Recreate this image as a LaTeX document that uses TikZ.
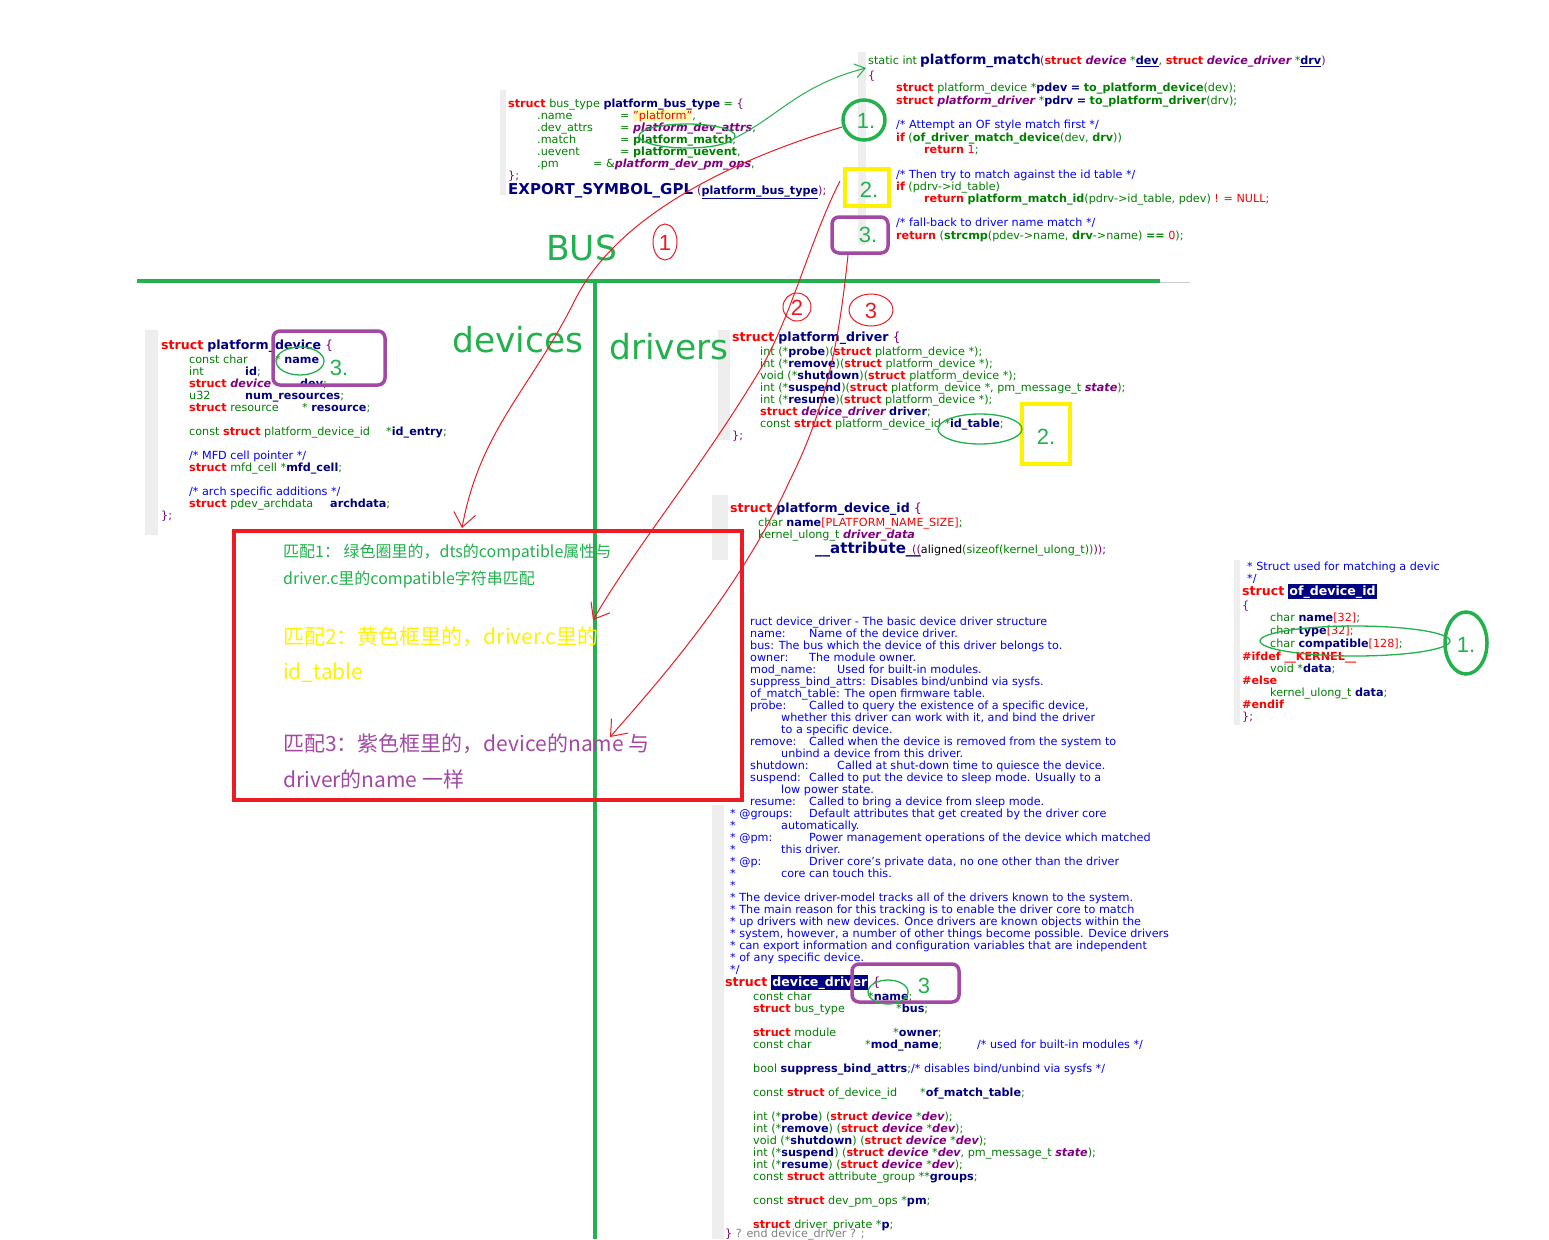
\documentclass[tikz,border=0pt]{standalone}
\usepackage{fontspec}
\setmainfont{DejaVu Sans}
\newfontfamily\cjk{Noto Sans CJK SC}
\newfontfamily\hand{Liberation Sans}
\usetikzlibrary{arrows.meta}
\definecolor{kred}{RGB}{255,0,0}
\definecolor{kgreen}{RGB}{0,128,0}
\definecolor{knavy}{RGB}{0,0,128}
\definecolor{kblue}{RGB}{0,0,255}
\definecolor{kpurple}{RGB}{128,0,128}
\definecolor{pgreen}{RGB}{34,177,76}
\definecolor{pyellow}{RGB}{255,242,0}
\definecolor{ppurple}{RGB}{163,73,164}
\definecolor{pred}{RGB}{237,28,36}
\definecolor{gbar}{RGB}{238,238,238}
\newcommand\kw[1]{\textcolor{kred}{\bfseries #1}}
\newcommand\ty[1]{\textcolor{kgreen}{#1}}
\newcommand\idn[1]{\textcolor{knavy}{\bfseries #1}}
\newcommand\cm[1]{\textcolor{kblue}{#1}}
\newcommand\pu[1]{\textcolor{kpurple}{#1}}
\newcommand\pit[1]{\textcolor{kpurple}{\bfseries\itshape #1}}
\newcommand\nr[1]{\textcolor{kred}{#1}}
\newcommand\hl[1]{{\setlength{\fboxsep}{1pt}\colorbox{knavy}{\textcolor{white}{\bfseries #1}}}}
\newcommand\cl[3]{\node[code] at (#1,#2) {#3};}
\tikzset{
  code/.style={anchor=base west, inner sep=0pt, font=\fontsize{11.2}{12}\selectfont, text=kgreen},
  head/.style={code, font=\fontsize{12.6}{13}\selectfont},
  big/.style={anchor=base west, inner sep=0pt, font=\fontsize{15}{16}\selectfont\bfseries, text=knavy},
  label/.style={anchor=base west, inner sep=0pt, font=\fontsize{34.5}{36}\selectfont, text=pgreen},
  hnum/.style={inner sep=0pt, font=\hand\fontsize{22}{22}\selectfont, text=pgreen},
  rnum/.style={inner sep=0pt, font=\hand\fontsize{22}{22}\selectfont, text=pred},
  cn/.style={anchor=base west, inner sep=0pt},
  gring/.style={draw=pgreen, line width=1.3pt},
  gcircle/.style={draw=pgreen, line width=3.5pt},
  ybox/.style={draw=pyellow, line width=3.5pt},
  pbox/.style={draw=ppurple, line width=3.5pt, rounded corners=7pt},
  redarrow/.style={draw=pred, line width=1pt, -{Straight Barb[length=14pt,width=22pt]}},
}
\begin{document}
\begin{tikzpicture}[x=1pt,y=-1pt]
\useasboundingbox (0,0) rectangle (1549,1239);
\fill[white] (0,0) rectangle (1549,1239);
% gray side bars
\fill[gbar] (145,330) rectangle (158,535);
\fill[gbar] (500,90) rectangle (506,195);
\fill[gbar] (858,52) rectangle (866,245);
\fill[gbar] (718,330) rectangle (730,440);
\fill[gbar] (712,495) rectangle (728,560);
\fill[gbar] (712,805) rectangle (724,1239);
\fill[gbar] (1234,560) rectangle (1240,725);

% bus lines
\draw[pgreen, line width=3.5pt] (137,281) -- (1160,281);
\draw[gbar!70!gray, line width=0.8pt] (1160,282) -- (1190,282);
\draw[pgreen, line width=3.5pt] (595,283) -- (595,1239);
\node[label] (bus) at (546,260) {BUS};
\node[label] (dev) at (452,352) {devices};
\node[label] (drv) at (609,359) {drivers};

% platform_match
\node[code] at (868,65) {static int};
\node[big,font=\fontsize{13.6}{14}\selectfont\bfseries] at (920,65) {platform\_match};
\cl{1040}{65}{\pu{(}\kw{struct} \pit{device} *\idn{\underline{dev}}, \kw{struct} \pit{device\_driver} *\idn{\underline{drv}}\pu{)}}
\cl{868}{79}{\pu{\{}}
\cl{896}{92}{\kw{struct} platform\_device *\idn{pdev} \idn{=} \textbf{to\_platform\_device}(dev);}
\cl{896}{104}{\kw{struct} \pit{platform\_driver} *\idn{pdrv} \idn{=} \textbf{to\_platform\_driver}(drv);}
\cl{896}{128}{\cm{/* Attempt an OF style match first */}}
\cl{896}{141}{\kw{if} (\textbf{of\_driver\_match\_device}(dev, \textbf{drv}))}
\cl{924}{153}{\kw{return} \nr{1};}
\cl{896}{178}{\cm{/* Then try to match against the id table */}}
\cl{896}{190}{\kw{if} (pdrv->id\_table)}
\cl{924}{202}{\kw{return} \textbf{platform\_match\_id}(pdrv->id\_table, pdev) \nr{! = NULL;}}
\cl{896}{226}{\cm{/* fall-back to driver name match */}}
\cl{896}{239}{\kw{return} (\textbf{strcmp}(pdev->name, \textbf{drv}->name) \textbf{==} \nr{0});}

% bus_type block
\cl{508}{107}{\kw{struct} bus\_type \idn{platform\_bus\_type} = \pu{\{}}
\cl{537}{119}{.name} \cl{620}{119}{= {\setlength{\fboxsep}{0pt}\colorbox{yellow!30}{\nr{"platform"}}},}
\cl{537}{131}{.dev\_attrs} \cl{620}{131}{= \pit{platform\_dev\_attrs},}
\cl{537}{143}{.match} \cl{620}{143}{= \textbf{platform\_match},}
\cl{537}{155}{.uevent} \cl{620}{155}{= \textbf{platform\_uevent},}
\cl{537}{167}{.pm} \cl{593}{167}{= \&\pit{platform\_dev\_pm\_ops},}
\cl{508}{179}{\pu{\};}}
\node[big] at (508,194) {EXPORT\_SYMBOL\_GPL};
\cl{697}{194}{\pu{(}\idn{\underline{platform\_bus\_type}}\pu{);}}

% platform_device
\node[head] at (161,349) {\kw{struct} \idn{platform\_device} \pu{\{}};
\cl{189}{363}{const char} \cl{275}{363}{* \idn{name}}
\cl{189}{375}{int} \cl{245}{375}{\idn{id};}
\cl{189}{387}{\kw{struct} \pit{device}} \cl{300}{387}{\idn{dev};}
\cl{189}{399}{u32} \cl{245}{399}{\idn{num\_resources};}
\cl{189}{411}{\kw{struct} resource} \cl{302}{411}{* \idn{resource};}
\cl{189}{435}{const \kw{struct} platform\_device\_id} \cl{386}{435}{*\idn{id\_entry};}
\cl{189}{459}{\cm{/* MFD cell pointer */}}
\cl{189}{471}{\kw{struct} mfd\_cell *\idn{mfd\_cell};}
\cl{189}{495}{\cm{/* arch specific additions */}}
\cl{189}{507}{\kw{struct} pdev\_archdata} \cl{330}{507}{\idn{archdata};}
\cl{161}{519}{\pu{\};}}

% platform_driver
\node[head] at (732,341) {\kw{struct} \idn{platform\_driver} \pu{\{}};
\cl{760}{355}{int (*\idn{probe})(\kw{struct} platform\_device *);}
\cl{760}{367}{int (*\idn{remove})(\kw{struct} platform\_device *);}
\cl{760}{379}{void (*\idn{shutdown})(\kw{struct} platform\_device *);}
\cl{760}{391}{int (*\idn{suspend})(\kw{struct} platform\_device *, pm\_message\_t \pit{state});}
\cl{760}{403}{int (*\idn{resume})(\kw{struct} platform\_device *);}
\cl{760}{415}{\kw{struct} \pit{device\_driver} \idn{driver};}
\cl{760}{427}{const \kw{struct} platform\_device\_id *\idn{id\_table};}
\cl{732}{439}{\pu{\};}}

% platform_device_id
\node[head] at (730,512) {\kw{struct} \idn{platform\_device\_id} \pu{\{}};
\cl{758}{526}{char \idn{name}\nr{[PLATFORM\_NAME\_SIZE]};}
\cl{758}{538}{kernel\_ulong\_t \pit{driver\_data}}
\node[big] at (815,553) {\_\_attribute\_\_};
\cl{912}{553}{\pu{((}\textcolor{black}{aligned}(sizeof(kernel\_ulong\_t))\pu{));}}

% comment block
\cl{750}{625}{\cm{ruct device\_driver - The basic device driver structure}}
\cl{750}{637}{\cm{name:}} \cl{809}{637}{\cm{Name of the device driver.}}
\cl{750}{649}{\cm{bus: The bus which the device of this driver belongs to.}}
\cl{750}{661}{\cm{owner:}} \cl{809}{661}{\cm{The module owner.}}
\cl{750}{673}{\cm{mod\_name:}} \cl{837}{673}{\cm{Used for built-in modules.}}
\cl{750}{685}{\cm{suppress\_bind\_attrs: Disables bind/unbind via sysfs.}}
\cl{750}{697}{\cm{of\_match\_table: The open firmware table.}}
\cl{750}{709}{\cm{probe:}} \cl{809}{709}{\cm{Called to query the existence of a specific device,}}
\cl{781}{721}{\cm{whether this driver can work with it, and bind the driver}}
\cl{781}{733}{\cm{to a specific device.}}
\cl{750}{745}{\cm{remove:}} \cl{809}{745}{\cm{Called when the device is removed from the system to}}
\cl{781}{757}{\cm{unbind a device from this driver.}}
\cl{750}{769}{\cm{shutdown:}} \cl{837}{769}{\cm{Called at shut-down time to quiesce the device.}}
\cl{750}{781}{\cm{suspend:}} \cl{809}{781}{\cm{Called to put the device to sleep mode. Usually to a}}
\cl{781}{793}{\cm{low power state.}}
\cl{750}{805}{\cm{resume:}} \cl{809}{805}{\cm{Called to bring a device from sleep mode.}}
\cl{730}{817}{\cm{* @groups:}} \cl{809}{817}{\cm{Default attributes that get created by the driver core}}
\cl{730}{829}{\cm{*}} \cl{781}{829}{\cm{automatically.}}
\cl{730}{841}{\cm{* @pm:}} \cl{809}{841}{\cm{Power management operations of the device which matched}}
\cl{730}{853}{\cm{*}} \cl{781}{853}{\cm{this driver.}}
\cl{730}{865}{\cm{* @p:}} \cl{809}{865}{\cm{Driver core's private data, no one other than the driver}}
\cl{730}{877}{\cm{*}} \cl{781}{877}{\cm{core can touch this.}}
\cl{730}{889}{\cm{*}}
\cl{730}{901}{\cm{* The device driver-model tracks all of the drivers known to the system.}}
\cl{730}{913}{\cm{* The main reason for this tracking is to enable the driver core to match}}
\cl{730}{925}{\cm{* up drivers with new devices. Once drivers are known objects within the}}
\cl{730}{937}{\cm{* system, however, a number of other things become possible. Device drivers}}
\cl{730}{949}{\cm{* can export information and configuration variables that are independent}}
\cl{730}{961}{\cm{* of any specific device.}}
\cl{730}{973}{\cm{*/}}

% device_driver
\node[head] at (725,986) {\kw{struct} \hl{device\_driver} \pu{\{}};
\cl{753}{1000}{const char} \cl{868}{1000}{*\idn{name};}
\cl{753}{1012}{\kw{struct} bus\_type} \cl{896}{1012}{*\idn{bus};}
\cl{753}{1036}{\kw{struct} module} \cl{893}{1036}{*\idn{owner};}
\cl{753}{1048}{const char} \cl{865}{1048}{*\idn{mod\_name};} \cl{977}{1048}{\cm{/* used for built-in modules */}}
\cl{753}{1072}{bool \idn{suppress\_bind\_attrs};\cm{/* disables bind/unbind via sysfs */}}
\cl{753}{1096}{const \kw{struct} of\_device\_id} \cl{920}{1096}{*\idn{of\_match\_table};}
\cl{753}{1120}{int (*\idn{probe}) (\kw{struct} \pit{device} *\pit{dev});}
\cl{753}{1132}{int (*\idn{remove}) (\kw{struct} \pit{device} *\pit{dev});}
\cl{753}{1144}{void (*\idn{shutdown}) (\kw{struct} \pit{device} *\pit{dev});}
\cl{753}{1156}{int (*\idn{suspend}) (\kw{struct} \pit{device} *\pit{dev}, pm\_message\_t \pit{state});}
\cl{753}{1168}{int (*\idn{resume}) (\kw{struct} \pit{device} *\pit{dev});}
\cl{753}{1180}{const \kw{struct} attribute\_group **\idn{groups};}
\cl{753}{1204}{const \kw{struct} dev\_pm\_ops *\idn{pm};}
\cl{753}{1228}{\kw{struct} driver\_private *\idn{p};}
\cl{725}{1237}{\pu{\}} \textcolor{gray}{? end device\_driver ? ;}}

% of_device_id
\cl{1247}{570}{\cm{* Struct used for matching a devic}}
\cl{1247}{582}{\cm{*/}}
\node[head] at (1242,595) {\kw{struct} \hl{of\_device\_id}};
\cl{1242}{609}{\pu{\{}}
\cl{1270}{621}{char \idn{name}\nr{[32]};}
\cl{1270}{634}{char \idn{type}\nr{[32]};}
\cl{1270}{647}{char \idn{compatible}\nr{[128]};}
\cl{1242}{660}{\kw{\#ifdef \_\_KERNEL\_\_}}
\cl{1270}{672}{void *\idn{data};}
\cl{1242}{684}{\kw{\#else}}
\cl{1270}{696}{kernel\_ulong\_t \idn{data};}
\cl{1242}{708}{\kw{\#endif}}
\cl{1242}{720}{\pu{\};}}

% red explanation box
\draw[pred, line width=4pt] (234,531) rectangle (742,800);
\node[cn, text=pgreen, font=\cjk\fontsize{16}{18}\selectfont] at (283,557) {匹配1：\ 绿色圈里的，dts的compatible属性与};
\node[cn, text=pgreen, font=\cjk\fontsize{16}{18}\selectfont] at (283,584) {driver.c里的compatible字符串匹配};
\node[cn, text=pyellow, font=\cjk\fontsize{21}{23}\selectfont] at (283,644) {匹配2：黄色框里的，driver.c里的};
\node[cn, text=pyellow, font=\cjk\fontsize{21}{23}\selectfont] at (283,679) {id\_table};
\node[cn, text=ppurple, font=\cjk\fontsize{21}{23}\selectfont] at (283,751) {匹配3：紫色框里的，device的name 与};
\node[cn, text=ppurple, font=\cjk\fontsize{21}{23}\selectfont] at (283,787) {driver的name 一样};

% annotations: green circles / boxes
\draw[gcircle] (864,120) ellipse (21 and 20);
\node[hnum] (g1) at (866,121) {1.};
\draw[ybox] (845,169) rectangle (889,206);
\node[hnum] (g2) at (869,190) {2.};
\draw[pbox] (832,217) rectangle (888,253);
\node[hnum] (g3) at (868,235) {3.};
\draw[pbox] (273,331) rectangle (385,385);
\draw[gring] (300,361) ellipse (24 and 14);
\node[hnum] (g3b) at (339,368) {3.};
\draw[ybox] (1022,404) rectangle (1070,464);
\node[hnum] (g2b) at (1046,437) {2.};
\draw[gring] (980,429) ellipse (42 and 15);
\draw[pbox] (852,964) rectangle (959,1002);
\draw[gring] (888,992) ellipse (20 and 12);
\node[hnum] (g3c) at (924,986) {3};
\draw[gring] (1355,641) ellipse (95 and 15);
\draw[gcircle] (1466,643) ellipse (21 and 31);
\node[hnum] (g1b) at (1466,645) {1.};
\draw[gring] (687,136) ellipse (48 and 12);
\coordinate (gs) at (735,138);
\coordinate (ge) at (866,68);
\draw[pgreen, line width=1pt, -{Straight Barb[length=10pt,width=14pt]}] (gs) .. controls (780,115) and (800,85) .. (ge);

% red numbers
\draw[pred, line width=1pt] (665,242) ellipse (12 and 18);
\node[rnum] (r1) at (665,243) {1};
\draw[pred, line width=1pt] (797,307) ellipse (14 and 14);
\node[rnum] (r2) at (797,308) {2};
\draw[pred, line width=1pt] (871,310) ellipse (22 and 16);
\node[rnum] (r3) at (871,311) {3};

% red arrows
\coordinate (a1s) at (842,127);
\coordinate (a1e) at (462,528);
\draw[redarrow] (a1s) .. controls (700,170) and (610,230) .. (575,300) .. controls (530,390) and (480,430) .. (a1e);
\coordinate (a2s) at (840,181);
\coordinate (a2e) at (593,620);
\draw[redarrow] (a2s) .. controls (810,240) and (790,320) .. (760,370) .. controls (700,470) and (640,540) .. (a2e);
\coordinate (a3s) at (848,255);
\coordinate (a3e) at (610,737);
\draw[redarrow] (a3s) .. controls (840,330) and (830,400) .. (790,480) .. controls (740,590) and (660,680) .. (a3e);
\end{tikzpicture}
\end{document}
